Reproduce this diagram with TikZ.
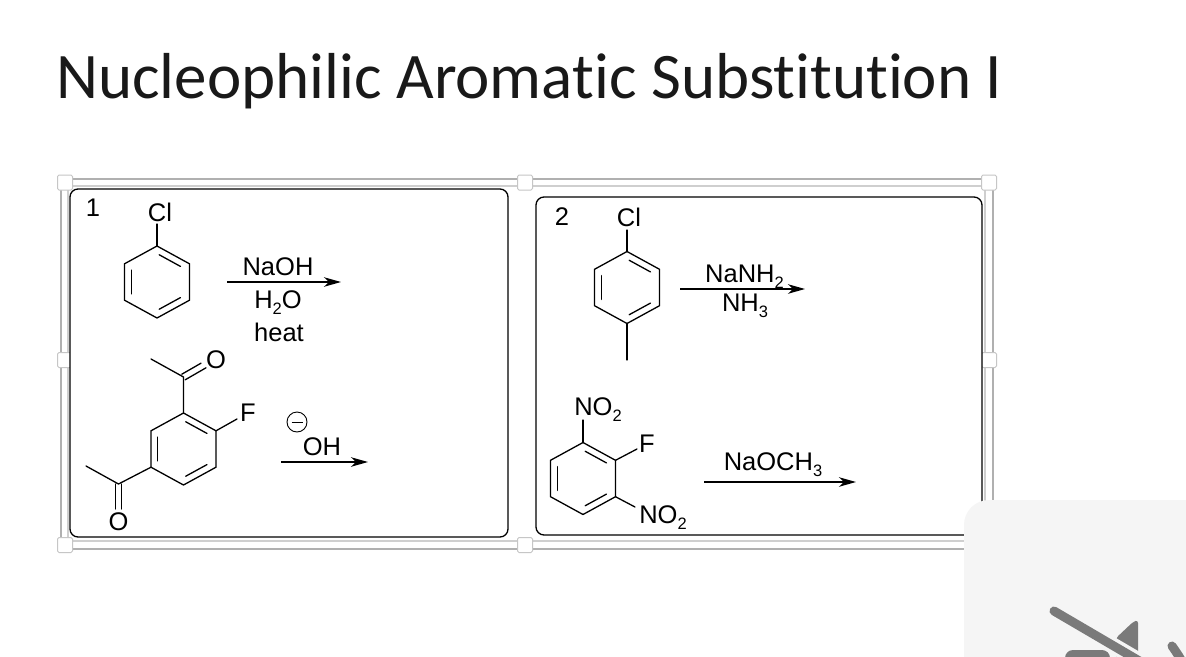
\documentclass[tikz,border=0pt]{standalone}
\usepackage{fontspec}
\setmainfont{Liberation Sans}
\newfontfamily\titlefont[Ligatures={NoCommon,NoRare,NoContextual}]{Carlito}
\usetikzlibrary{calc,arrows.meta}
\definecolor{overlaybg}{HTML}{F5F5F5}
\definecolor{overlayicon}{HTML}{7A7A7A}
\newcommand\chemsub[1]{\raisebox{-.24em}{\fontsize{16.5}{16.5}\selectfont #1}}
\newcommand\ringat[3]{% name, cx,cy ; R=36 with flat sides
  \coordinate (#1c) at (#2,#3);
  \coordinate (#1a) at (#2,#3-36);
  \coordinate (#1b) at (#2+32.5,#3-18.2);
  \coordinate (#1d) at (#2+32.5,#3+18.2);
  \coordinate (#1e) at (#2,#3+36);
  \coordinate (#1f) at (#2-32.5,#3+18.2);
  \coordinate (#1g) at (#2-32.5,#3-18.2);
  \draw[bond,line join=miter] (#1a)--(#1b)--(#1d)--(#1e)--(#1f)--(#1g)--cycle;
}
\newcommand\dbl[3]{\draw[bond,shorten >=2.5pt,shorten <=2.5pt] ($(#1#2)!.21!(#1c)$)--($(#1#3)!.21!(#1c)$);}
\tikzset{
  x=1pt,y=-1pt,
  bond/.style={line width=1.3pt,black,line cap=round},
  rxn/.style={line width=1.3pt,black,-{Stealth[length=17pt,width=9.5pt,inset=5pt]}},
  chem/.style={font=\fontsize{25.5}{25.5}\selectfont,inner sep=0pt,text=black},
  panel/.style={draw=black,line width=1.3pt,rounded corners=8pt,fill=white},
  selouter/.style={draw=gray!62,line width=1.6pt},
  selinner/.style={draw=gray!38,line width=1.6pt},
  handle/.style={draw=gray!45,fill=white,line width=1pt,rounded corners=1.5pt,minimum size=15pt,inner sep=0pt},
}
\begin{document}
\begin{tikzpicture}
\useasboundingbox (0,0) rectangle (1186,656);
\fill[white] (0,0) rectangle (1186,656);
\node[anchor=base west,inner sep=0pt,font=\titlefont\fontsize{65}{65}\selectfont,text=black!90] (title) at (56,98) {Nucleophilic Aromatic Substitution I};
% selection frame
\draw[selouter] (61,179) rectangle (993,549);
\draw[selinner] (68,186) rectangle (985,541);
\foreach \n/\px/\py in {h1/65/182.5,h2/525/182.5,h3/989/182.5,h4/65/360,h5/989/360,h6/65/545,h7/525/545}
  \node[handle] (\n) at (\px,\py) {};
% panels
\draw[panel] (70,189) rectangle (508,537);
\draw[panel] (536,197) rectangle (982,535);
\node[chem] (n1) at (93,208) {1};
\node[chem] (n2) at (562,217) {2};
% molecule 1: chlorobenzene
\ringat{A}{157}{282}
\dbl{A}{a}{b}\dbl{A}{d}{e}\dbl{A}{f}{g}
\node[chem] (Acl) at (160,212) {Cl};
\coordinate (Acle) at (157,224);
\draw[bond] (Aa)--(Acle);
\node[chem] (r1a) at (278,267) {NaOH};
\node[chem] (r1b) at (278,303) {H\chemsub{2}O};
\node[chem] (r1c) at (279,332) {heat};
\coordinate (a1s) at (227,282); \coordinate (a1e) at (341,282);
\draw[rxn] (a1s)--(a1e);
% molecule 2: diacetyl fluorobenzene
\ringat{B}{183.5}{449}
\dbl{B}{a}{b}\dbl{B}{d}{e}\dbl{B}{f}{g}
\node[chem] (BF) at (248,413) {F};
\coordinate (BFe) at (237,419);
\draw[bond] (Bb)--(BFe);
\coordinate (Bk1) at (183.5,377);
\coordinate (Bm1) at (151,359);
\node[chem] (Bo1) at (216,360) {O};
\draw[bond] (Ba)--(Bk1)--(Bm1);
\draw[bond] (181.8,374.2)--(201,363.2);
\draw[bond] (185.2,379.8)--(206,367.8);
\coordinate (Bk2) at (118.5,484);
\coordinate (Bm2) at (86,466);
\node[chem] (Bo2) at (118.5,522) {O};
\draw[bond] (Bf)--(Bk2)--(Bm2);
\draw[bond] (115.8,484)--(115.8,509);
\draw[bond] (121.5,484)--(121.5,509);
\node[draw=black,line width=.9pt,circle,minimum size=20pt,inner sep=0pt] (minus) at (297,422) {};
\draw[black,line width=.9pt] ($(minus)+(-5.5,0)$)--($(minus)+(5.5,0)$);
\node[chem] (oh) at (322,447) {OH};
\coordinate (a2s) at (281,462); \coordinate (a2e) at (368,462);
\draw[rxn] (a2s)--(a2e);
% molecule 3: chlorotoluene
\ringat{C}{627}{287.5}
\dbl{C}{a}{b}\dbl{C}{d}{e}\dbl{C}{f}{g}
\node[chem] (Ccl) at (629,217) {Cl};
\coordinate (Ccle) at (627,230);
\coordinate (Cme) at (627,360);
\draw[bond] (Ca)--(Ccle);
\draw[bond] (Ce)--(Cme);
\node[chem] (r3a) at (744.5,277) {NaNH\chemsub{2}};
\node[chem] (r3b) at (745,306) {NH\chemsub{3}};
\coordinate (a3s) at (680,289); \coordinate (a3e) at (805,289);
\draw[rxn] (a3s)--(a3e);
% molecule 4: dinitrofluorobenzene
\ringat{D}{583}{478.5}
\dbl{D}{a}{b}\dbl{D}{d}{e}\dbl{D}{f}{g}
\node[chem] (Dn1) at (598,410) {NO\chemsub{2}};
\coordinate (Dn1e) at (583,420);
\draw[bond] (Da)--(Dn1e);
\node[chem] (DF) at (647,444) {F};
\coordinate (DFe) at (637,449);
\draw[bond] (Db)--(DFe);
\node[chem] (Dn2) at (663,518) {NO\chemsub{2}};
\coordinate (Dn2e) at (635,507);
\draw[bond] (Dd)--(Dn2e);
\node[chem] (r4) at (773,465) {NaOCH\chemsub{3}};
\coordinate (a4s) at (704,482); \coordinate (a4e) at (856,482);
\draw[rxn] (a4s)--(a4e);
% muted-speaker overlay, cut off by the image edge
\begin{scope}
\clip (0,0) rectangle (1186,656);
\fill[overlaybg] (964,525) arc[start angle=180,end angle=270,radius=25] -- (1200,500) -- (1200,670) -- (964,670) -- cycle;
\fill[overlayicon,rounded corners=3pt] (1138,620) -- (1133,622) -- (1116,638) -- (1116,670) -- (1138,670) -- cycle;
\fill[overlayicon,rounded corners=8pt] (1065,680) -- (1065,650) -- (1110,650) -- (1110,680) -- cycle;
\draw[overlaybg,line width=16pt] (1054,611) -- (1165,676);
\draw[overlayicon,line width=9pt,line cap=round] (1054,611) -- (1165,676);
\draw[overlayicon,line width=9pt,line cap=round] (1172,646) .. controls (1182,660) and (1186,668) .. (1190,680);
\end{scope}
\end{tikzpicture}
\end{document}
